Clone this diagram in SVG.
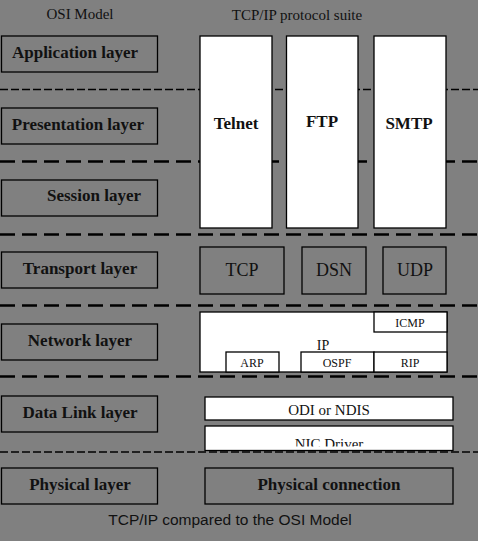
<svg xmlns="http://www.w3.org/2000/svg" width="478" height="541" viewBox="0 0 478 541">
<style>
.bg{fill:#808080}
.osi{fill:none;stroke:#000;stroke-width:1.3}
.wb{fill:#fff;stroke:#000;stroke-width:1.3}
.gb{fill:#808080;stroke:#000;stroke-width:1.3}
.thin{stroke:#000;stroke-width:1.3;stroke-dasharray:8 3;fill:none}
.thick{stroke:#000;stroke-width:2.6;stroke-dasharray:15 7;fill:none}
.lbl{font-family:"Liberation Serif","Times New Roman",serif;font-weight:bold;font-size:17px;fill:#111;text-anchor:middle}
.reg{font-family:"Liberation Serif","Times New Roman",serif;fill:#111;text-anchor:middle}
.cap{font-family:"Liberation Sans",Arial,sans-serif;font-size:15.5px;fill:#111;text-anchor:middle}
</style>
<defs>
<clipPath id="nicclip"><rect x="205" y="426" width="248" height="20.5"/></clipPath>
</defs>
<rect class="bg" x="0" y="0" width="478" height="541"/>
<g id="connectors">
<line class="thin" x1="0" y1="89.5" x2="478" y2="89.5"/>
<line class="thick" x1="0" y1="161.5" x2="478" y2="161.5"/>
<line class="thick" x1="0" y1="234.5" x2="478" y2="234.5"/>
<line class="thick" x1="0" y1="305.5" x2="478" y2="305.5"/>
<line class="thick" x1="0" y1="376.5" x2="478" y2="376.5"/>
<line class="thin" x1="0" y1="452" x2="478" y2="452"/>
</g>
<g id="titles">
<text class="reg" x="80" y="19" font-size="15">OSI Model</text>
<text class="reg" x="297" y="20" font-size="15">TCP/IP protocol suite</text>
</g>
<g id="osi-application"><rect class="osi" x="1.5" y="36" width="156" height="36"/><text class="lbl" x="75" y="58">Application layer</text></g>
<g id="osi-presentation"><rect class="osi" x="1.5" y="108" width="156" height="36"/><text class="lbl" x="78" y="130">Presentation layer</text></g>
<g id="osi-session"><rect class="osi" x="1.5" y="180" width="156" height="36"/><text class="lbl" x="94" y="201" font-size="15">Session layer</text></g>
<g id="osi-transport"><rect class="osi" x="1.5" y="252" width="156" height="36"/><text class="lbl" x="80" y="274">Transport layer</text></g>
<g id="osi-network"><rect class="osi" x="1.5" y="324" width="156" height="36"/><text class="lbl" x="80" y="346">Network layer</text></g>
<g id="osi-datalink"><rect class="osi" x="1.5" y="396" width="156" height="36"/><text class="lbl" x="80" y="418">Data Link layer</text></g>
<g id="osi-physical"><rect class="osi" x="1.5" y="468" width="156" height="36"/><text class="lbl" x="80" y="490">Physical layer</text></g>
<g id="telnet"><rect class="wb" x="200" y="36" width="72" height="192"/><text class="lbl" x="236" y="129">Telnet</text></g>
<g id="ftp"><rect class="wb" x="286.5" y="36" width="71.5" height="192"/><text class="lbl" x="322" y="127">FTP</text></g>
<g id="smtp"><rect class="wb" x="374" y="36" width="72" height="192"/><text class="lbl" x="409" y="129">SMTP</text></g>
<g id="tcp"><rect class="gb" x="200" y="247" width="84" height="47"/><text class="reg" x="242" y="276" font-size="18">TCP</text></g>
<g id="dsn"><rect class="gb" x="302" y="247" width="64" height="47"/><text class="reg" x="334" y="276" font-size="18">DSN</text></g>
<g id="udp"><rect class="gb" x="383" y="247" width="63" height="47"/><text class="reg" x="415" y="276" font-size="18">UDP</text></g>
<g id="ip"><rect class="wb" x="200" y="312" width="247" height="60"/><text class="reg" x="323" y="350" font-size="14">IP</text></g>
<g id="icmp"><rect class="wb" x="374" y="312" width="73" height="20"/><text class="reg" x="410" y="327" font-size="12">ICMP</text></g>
<g id="arp"><rect class="wb" x="226" y="352" width="53" height="20"/><text class="reg" x="252" y="367" font-size="12">ARP</text></g>
<g id="ospf"><rect class="wb" x="301" y="352" width="73" height="20"/><text class="reg" x="337" y="367" font-size="12">OSPF</text></g>
<g id="rip"><rect class="wb" x="374" y="352" width="73" height="20"/><text class="reg" x="410" y="367" font-size="12">RIP</text></g>
<g id="odi"><rect class="wb" x="205" y="397" width="248" height="23"/><text class="reg" x="329" y="415" font-size="15">ODI or NDIS</text></g>
<g id="nic"><rect class="wb" x="205" y="426" width="248" height="24.5"/><text class="reg" x="329" y="449" font-size="15" clip-path="url(#nicclip)">NIC Driver</text></g>
<g id="physical-connection"><rect class="gb" x="205" y="468" width="248" height="36"/><text class="lbl" x="329" y="490">Physical connection</text></g>
<text class="cap" x="230" y="525">TCP/IP compared to the OSI Model</text>
</svg>
